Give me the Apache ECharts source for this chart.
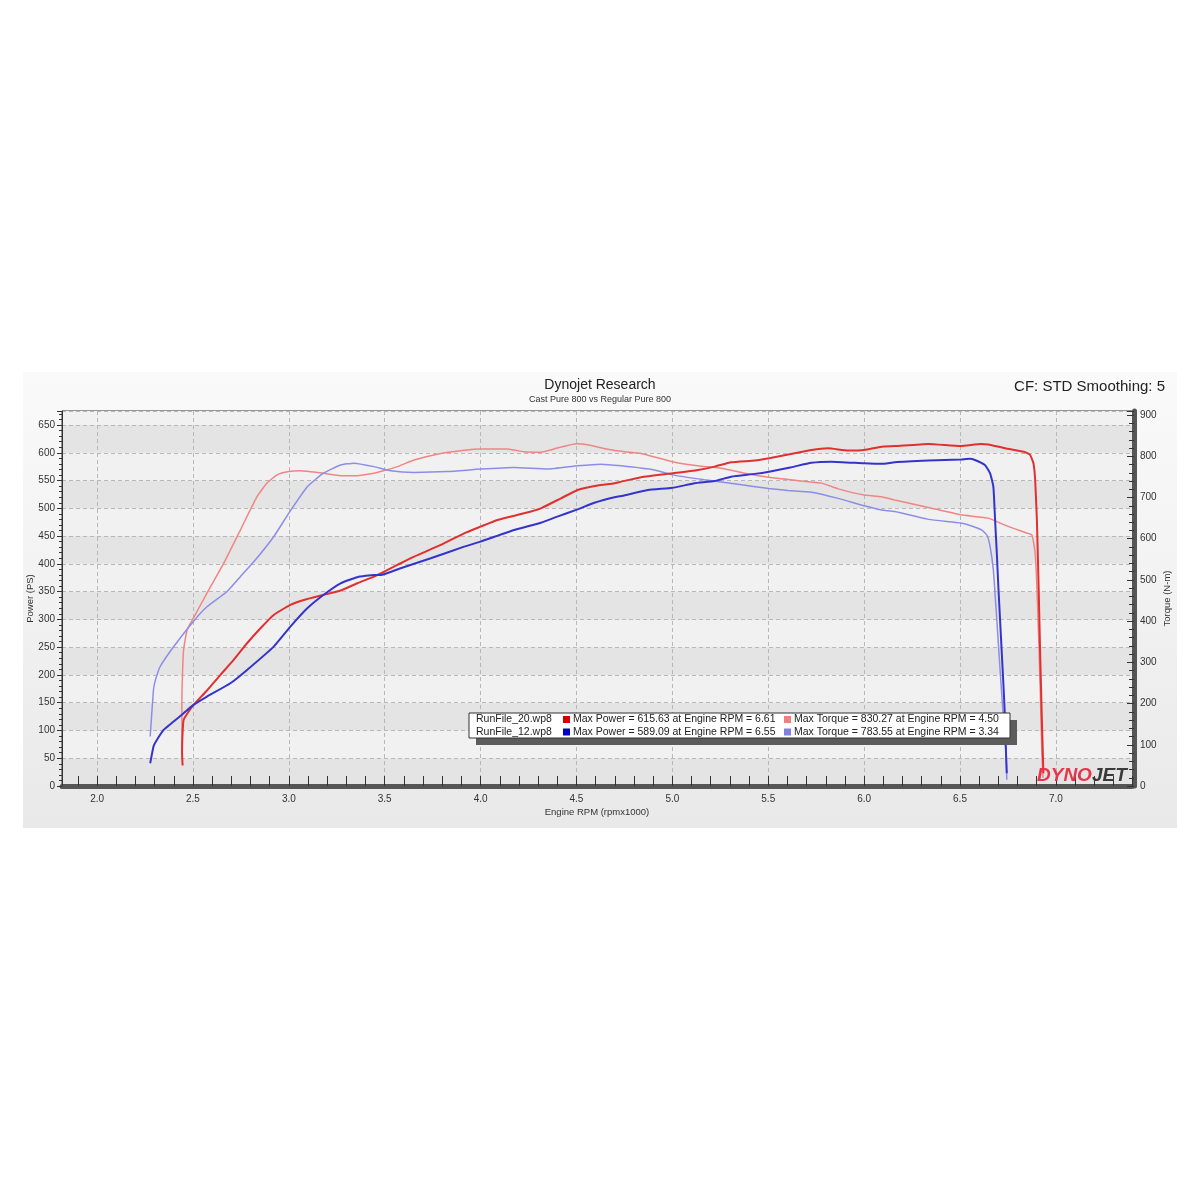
<!DOCTYPE html>
<html><head><meta charset="utf-8">
<script src="https://cdn.jsdelivr.net/npm/echarts@6/dist/echarts.min.js"></script>
<style>html,body{margin:0;padding:0;background:#fff}#c{width:1200px;height:1200px}</style>
</head><body><div id="c"></div>
<script>
// ---- Data (Engine RPM x1000, Power PS, Torque N-m) ----
const r20PowerRpm = [2.446,2.443,2.445,2.451,2.477,2.503,2.573,2.643,2.712,2.782,2.852,2.921,3.008,3.078,3.18,3.27,3.357,3.444,3.479,3.566,3.653,3.792,3.914,4.0,4.088,4.227,4.314,4.419,4.506,4.611,4.698,4.733,4.837,5.0,5.133,5.22,5.307,5.43,5.504,5.638,5.725,5.812,5.917,6.0,6.09,6.16,6.335,6.504,6.61,6.648,6.735,6.84,6.866,6.883,6.892,6.901,6.91,6.918,6.927,6.935];
const r20PowerPs  = [37,60,89,119,134,146,172,200,227,257,284,308,326,335,344,352,365,377,383,398,413,434,455,467,479,491,500,518,533,541,545,548,556,563,569,575,583,586,590,599,605,608,604,605,611,612,616,612,615.6,615,608,601,596,581,551,479,359,239,119,23];

const r20TorqueRpm = [2.443,2.442,2.446,2.451,2.47,2.503,2.573,2.66,2.747,2.834,2.886,2.939,3.0,3.06,3.18,3.27,3.357,3.444,3.479,3.566,3.653,3.792,3.914,4.0,4.14,4.226,4.314,4.40,4.50,4.558,4.663,4.75,4.837,5.0,5.133,5.255,5.377,5.504,5.656,5.777,5.865,6.0,6.09,6.16,6.335,6.504,6.648,6.735,6.84,6.875,6.892,6.901,6.91,6.918,6.927,6.933];
const r20TorqueNm  = [100,200,280,330,380,408,468,540,621,702,735,755,763,765,759,753,753,759,763,775,791,807,815,818,818,811,810,820,830.3,828,817,811,807,787,777,771,759,749,741,735,721,706,702,694,676,658,650,633,615,609,565,484,362,241,79,20];

const r12PowerRpm = [2.277,2.294,2.303,2.347,2.399,2.451,2.503,2.573,2.695,2.782,2.921,3.008,3.096,3.18,3.27,3.357,3.444,3.479,3.583,3.74,3.914,4.0,4.175,4.314,4.40,4.506,4.593,4.698,4.733,4.872,5.0,5.116,5.22,5.307,5.43,5.504,5.621,5.725,5.83,6.0,6.09,6.16,6.335,6.504,6.55,6.578,6.63,6.657,6.674,6.683,6.692,6.70,6.709,6.718,6.727,6.735,6.74,6.744];
const r12PowerPs  = [41,71,78,101,116,131,146,161,185,209,251,287,320,344,365,376,380,380,392,410,431,440,461,474,485,498,510,520,522,533,537,545,549,557,562,566,574,582,584,581,580,583,586,588,589.1,587,578,563,539,479,419,359,299,239,179,119,59,23];

const r12TorqueRpm = [2.277,2.294,2.303,2.329,2.399,2.503,2.573,2.678,2.747,2.817,2.921,3.0,3.096,3.18,3.27,3.34,3.444,3.531,3.653,3.827,4.0,4.175,4.349,4.506,4.628,4.733,4.906,5.0,5.168,5.342,5.504,5.603,5.725,5.865,6.0,6.09,6.16,6.335,6.504,6.561,6.614,6.64,6.657,6.674,6.692,6.709,6.727,6.74,6.744];
const r12TorqueNm  = [120,233,255,290,338,400,435,472,508,544,605,662,726,759,779,783.5,775,765,761,763,769,773,769,777,781,777,767,755,743,732,722,717,713,698,680,670,666,647,638,631,621,609,581,524,403,282,160,79,15];

const xTickLabels = ['2.0','2.5','3.0','3.5','4.0','4.5','5.0','5.5','6.0','6.5','7.0'];

const legendRows = [
  {file:'RunFile_20.wp8', power:'Max Power = 615.63 at Engine RPM = 6.61', torque:'Max Torque = 830.27 at Engine RPM = 4.50', pc:'#d40000', tc:'#f08080'},
  {file:'RunFile_12.wp8', power:'Max Power = 589.09 at Engine RPM = 6.55', torque:'Max Torque = 783.55 at Engine RPM = 3.34', pc:'#0000c0', tc:'#8080e0'}
];

const FONT = '"Liberation Sans", Arial, sans-serif';
const zip = (a,b)=>a.map((x,i)=>[x,b[i]]);
const isHalf = v => Math.abs(v*2 - Math.round(v*2)) < 1e-6;

const chart = echarts.init(document.getElementById('c'));

const legendEls = [
  {type:'rect', z:100, shape:{x:476,y:720,width:541,height:25}, style:{fill:'#5c5c5c'}},
  {type:'rect', z:101, shape:{x:469,y:713,width:541,height:25}, style:{fill:'#ffffff', stroke:'#333', lineWidth:1}}
];
legendRows.forEach((r,i)=>{
  const y = 719.5 + i*12.5;
  legendEls.push({type:'text', z:102, style:{text:r.file, x:476, y:y, font:'10.5px '+FONT, fill:'#222', verticalAlign:'middle'}});
  legendEls.push({type:'rect', z:102, shape:{x:563,y:y-3.5,width:7,height:7}, style:{fill:r.pc}});
  legendEls.push({type:'text', z:102, style:{text:r.power, x:573, y:y, font:'10.5px '+FONT, fill:'#222', verticalAlign:'middle'}});
  legendEls.push({type:'rect', z:102, shape:{x:784,y:y-3.5,width:7,height:7}, style:{fill:r.tc}});
  legendEls.push({type:'text', z:102, style:{text:r.torque, x:794, y:y, font:'10.5px '+FONT, fill:'#222', verticalAlign:'middle'}});
});

const option = {
  animation:false,
  backgroundColor:'#ffffff',
  textStyle:{fontFamily:FONT},
  title:[
    {text:'Dynojet Research', subtext:'Cast Pure 800 vs Regular Pure 800', left:'center', top:373, itemGap:3,
     textStyle:{fontSize:14, fontWeight:'normal', color:'#222', fontFamily:FONT},
     subtextStyle:{fontSize:9, color:'#333', fontFamily:FONT}},
    {text:'CF: STD Smoothing: 5', right:30, top:374,
     textStyle:{fontSize:15, fontWeight:'normal', color:'#222', fontFamily:FONT}}
  ],
  graphic:[
    {type:'rect', z:-10, shape:{x:23,y:372,width:1154,height:456},
     style:{fill:new echarts.graphic.LinearGradient(0,0,0,1,[{offset:0,color:'#fafafa'},{offset:1,color:'#e9e9e9'}])}},
    {type:'text', z:50, style:{x:1037, y:766, text:'{a|DYNO}{b|JET}',
      rich:{a:{fontSize:19, fontStyle:'italic', fontWeight:'bold', fill:'#e8344a', color:'#e8344a', fontFamily:FONT},
            b:{fontSize:19, fontStyle:'italic', fontWeight:'bold', fill:'#3a3a3a', color:'#3a3a3a', fontFamily:FONT}}}},
    ...legendEls
  ],
  grid:{left:62, right:68, top:411, bottom:414, show:true, borderColor:'#333', borderWidth:1, backgroundColor:'#ececec'},
  xAxis:[
    {type:'value', min:1.817, max:7.397, splitNumber:56, minInterval:0.1, maxInterval:0.1, offset:3,
     name:'Engine RPM (rpmx1000)', nameLocation:'middle', nameGap:18, nameMoveOverlap:false,
     nameTextStyle:{fontSize:9.5, color:'#333', fontFamily:FONT},
     axisLine:{lineStyle:{color:'#555', width:5}},
     axisTick:{inside:true, length:10, lineStyle:{color:'#333', width:1}},
     axisLabel:{fontSize:10, color:'#333', margin:5, fontFamily:FONT,
       formatter:v=>{ if(!isHalf(v)) return ''; const s=v.toFixed(1); return xTickLabels.indexOf(s)>=0?s:''; }},
     splitLine:{show:false}},
    {type:'value', min:1.817, max:7.397, minInterval:0.5, maxInterval:0.5, splitNumber:11, position:'bottom',
     axisLine:{show:false}, axisTick:{show:false}, axisLabel:{show:false},
     splitLine:{show:true, lineStyle:{color:'#b8b8b8', type:[4,3], width:1}}}
  ],
  yAxis:[
    {type:'value', min:0, max:675.2, interval:50, position:'left',
     name:'Power (PS)', nameLocation:'middle', nameGap:27, nameMoveOverlap:false,
     nameTextStyle:{fontSize:9.5, color:'#333', fontFamily:FONT},
     axisLine:{show:true, lineStyle:{color:'#333', width:1}},
     axisTick:{show:true, length:5, lineStyle:{color:'#333'}},
     minorTick:{show:true, splitNumber:5, length:3, lineStyle:{color:'#333'}},
     axisLabel:{fontSize:10, color:'#333', margin:7, showMaxLabel:false, fontFamily:FONT},
     splitLine:{show:true, lineStyle:{color:'#b8b8b8', type:[4,3], width:1}},
     splitArea:{show:true, areaStyle:{color:['#e4e4e4','#f1f1f1']}}},
    {type:'value', min:0, max:910, interval:100, position:'right', offset:2,
     name:'Torque (N-m)', nameLocation:'middle', nameGap:28, nameMoveOverlap:false,
     nameTextStyle:{fontSize:9.5, color:'#333', fontFamily:FONT},
     axisLine:{show:true, lineStyle:{color:'#555', width:5}},
     axisTick:{show:true, inside:true, length:7, lineStyle:{color:'#333'}},
     minorTick:{show:true, splitNumber:5, length:5, lineStyle:{color:'#333'}},
     axisLabel:{fontSize:10, color:'#333', margin:6, showMaxLabel:false, fontFamily:FONT},
     splitLine:{show:false}}
  ],
  series:[
    {name:'RunFile_20 Torque', type:'line', xAxisIndex:0, yAxisIndex:1, data:zip(r20TorqueRpm,r20TorqueNm), smooth:0.15, showSymbol:false, symbol:'none', lineStyle:{color:'#f08585', width:1.5}, z:3},
    {name:'RunFile_12 Torque', type:'line', xAxisIndex:0, yAxisIndex:1, data:zip(r12TorqueRpm,r12TorqueNm), smooth:0.15, showSymbol:false, symbol:'none', lineStyle:{color:'#8d8de8', width:1.5}, z:3},
    {name:'RunFile_20 Power', type:'line', xAxisIndex:0, yAxisIndex:0, data:zip(r20PowerRpm,r20PowerPs), smooth:0.15, showSymbol:false, symbol:'none', lineStyle:{color:'#e0302f', width:2}, z:4},
    {name:'RunFile_12 Power', type:'line', xAxisIndex:0, yAxisIndex:0, data:zip(r12PowerRpm,r12PowerPs), smooth:0.15, showSymbol:false, symbol:'none', lineStyle:{color:'#3434cc', width:2}, z:4}
  ]
};
chart.setOption(option);
</script>
</body></html>
